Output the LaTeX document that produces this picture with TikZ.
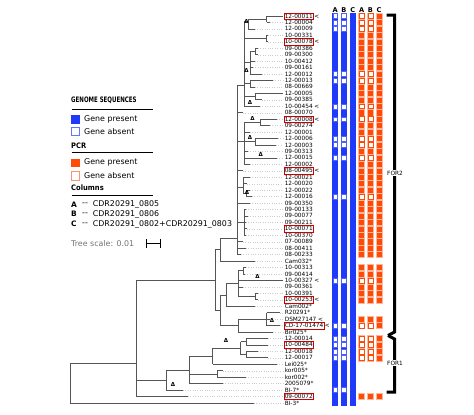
\documentclass[tikz,border=0pt]{standalone}
\usepackage{fontspec}
\setmainfont{DejaVu Sans}
\usepackage{tikz}
\usetikzlibrary{positioning}
\definecolor{gsblue}{RGB}{32,58,250}
\definecolor{pcrorange}{RGB}{255,74,8}
\definecolor{treegray}{RGB}{85,85,85}
\def\lf{\fontsize{5.8}{6}\selectfont}
\def\lg{\fontsize{7.9}{9}\selectfont}

\begin{document}
\begin{tikzpicture}[x=1pt,y=-1pt,
    br/.style={treegray, line width=0.75pt},
    lead/.style={black!20, dotted, line width=0.4pt},
    leaf/.style={font=\lf, inner sep=0.6pt, text height=4.4pt, text depth=0.4pt, anchor=west},
    redbox/.style={red!80!black, line width=0.6pt},
    delta/.style={font=\fontsize{5.5}{6}\selectfont\bfseries, inner sep=0pt},
    hdr/.style={font=\fontsize{6.6}{7}\selectfont\bfseries, inner sep=0pt},
    legtxt/.style={font=\lg, inner sep=0pt, anchor=west},
    leghead/.style={font=\fontsize{7.5}{8}\selectfont\bfseries, inner sep=0pt, anchor=west},
    legline/.style={line width=1.3pt},
    bracket/.style={line width=3pt},
    forlbl/.style={font=\fontsize{5.8}{6}\selectfont, fill=white, inner sep=0.8pt}]
\useasboundingbox (0,0) rectangle (474,415);

\begin{scope}[y=-6.45pt, yshift=-9.55pt]
  % tree
  \draw[br] (70,54.87) -- (70,61);
  \foreach \p/\x/\c/\a/\b in {70/136/54.87/49.74/60, 136/136/49.74/41.92/57.44,
      136/215/41.92/37.21/46.625, 215/220/37.21/35.42/39, 220/237.7/35.42/11.70/38,
      237.7/244/11.70/1.88/15, 244/248.3/1.88/1.5/3, 248.3/266.7/1.5/1/2,
      244/266.7/4.5/4/5, 244/250/8.25/6.5/10, 250/255/6.5/6/7, 244/250/11.5/11/12,
      244/255/13.5/13/14, 237.7/244/20.5/17.5/24, 244/260/17.5/17/18,
      244/255/20.5/20/21, 237.7/243.3/27.5/26/28.5, 243.3/246/28.5/28/29,
      237.7/244/33/31/35, 215/220/46.625/44.25/49, 220/226/44.25/42.5/46,
      226/238.3/42.5/40.5/44.5, 238.3/243/40.5/40/41, 238.3/255/44.5/44/45,
      220/238.3/49/48/50, 238.3/266.7/48/47/49, 136/166/57.44/55.875/59,
      166/189.3/55.875/53.75/58, 189.3/212.7/53.75/52.5/55, 212.7/240.7/52.5/51.5/53.5,
      240.7/246/51.5/51/52, 240.7/246/53.5/53/54, 189.3/217.3/56.5/56/57}{
    \draw[br] (\p,\c) -- (\x,\c);
    \draw[br] (\x,\a) -- (\x,\b);
  }
  \foreach \k/\p/\t in {1/266.7/283, 2/266.7/270, 3/248.3/255, 4/266.7/268, 5/266.7/268,
      6/255/258, 7/255/258, 8/250/255, 9/250/253, 10/250/262, 11/250/273, 12/250/255,
      13/255/283, 14/255/262, 15/244/260, 16/237.7/243, 17/260/276.7, 18/260/270,
      19/244/250, 20/255/278, 21/255/276, 22/244/248, 23/244/276.7, 24/244/250,
      25/237.7/243, 26/243.3/250, 27/243.3/247, 28/246/250, 29/246/252, 30/237.7/250,
      31/244/246, 32/244/248, 33/244/246, 34/244/247, 35/244/246, 36/237.7/243,
      37/237.7/246, 38/237.7/241, 39/220/255, 40/243/246, 41/243/245, 42/238.3/283,
      43/238.3/243, 44/255/258, 45/255/258, 46/226/255, 47/266.7/280, 48/266.7/270,
      49/266.7/280, 50/238.3/273, 51/246/268, 52/246/268, 53/246/258, 54/246/268,
      55/212.7/276.7, 56/217.3/222.7, 57/217.3/246, 58/189.3/222.7, 59/166/183,
      60/136/188, 61/70/254}{
    \draw[lead] (\t,\k) -- (283,\k);
    \draw[br] (\p,\k) -- (\t,\k);
  }

  % labels
  \foreach \k/\n in {1/12-00011, 2/12-00004, 3/12-00009, 4/10-00331, 5/10-00078,
      6/09-00386, 7/09-00300, 8/10-00412, 9/09-00161, 10/12-00012, 11/12-00013,
      12/08-00669, 13/12-00005, 14/09-00385, 15/10-00454, 16/08-00070, 17/12-00008,
      18/09-00274, 19/12-00001, 20/12-00006, 21/12-00003, 22/09-00313, 23/12-00015,
      24/12-00002, 25/08-00495, 26/12-00021, 27/12-00020, 28/12-00022, 29/12-00016,
      30/09-00350, 31/09-00133, 32/09-00077, 33/09-00211, 34/10-00071, 35/10-00370,
      36/07-00089, 37/08-00411, 38/08-00233, 39/Cam032*, 40/10-00313, 41/09-00414,
      42/10-00327, 43/09-00361, 44/10-00391, 45/10-00253, 46/Cam002*, 47/R20291*,
      48/DSM27147, 49/CD-17-01474, 50/Bir025*, 51/12-00014, 52/10-00484, 53/12-00018,
      54/12-00017, 55/Lei025*, 56/kor005*, 57/kor002*, 58/2005079*, 59/BI-7*,
      60/09-00072, 61/BI-3*}{
    \node[leaf] (L\k) at (284,\k) {\n};
  }
  \foreach \k in {1,5,17,25,34,45,49,52,60}
    \draw[redbox] (L\k.south west) rectangle (L\k.north east);
  \foreach \k in {1,5,15,17,25,42,45,48,49}
    \node[leaf] (M\k) at (L\k.east) {<};

  % genome columns
  \foreach \cx in {335.3,344,352.7}
    \fill[gsblue] (\cx-3,0.5) rectangle (\cx+3,61.5);
  \foreach \k in {1,2,3,10,11,15,17,20,21,23,29,42,49,51,52,53,54,59}
    \foreach \cx in {335.3,344}
      \filldraw[fill=white, draw=gsblue!80, line width=0.5pt] (\cx-2.4,\k-0.38) rectangle (\cx+2.4,\k+0.38);

  % pcr columns
  \foreach \k in {1,...,38,40,41,42,43,44,45,48,49,51,52,53,54,60}
    \foreach \cx in {361.7,370.3,379}
      \filldraw[fill=pcrorange, draw=pcrorange!40, line width=0.5pt] (\cx-3,\k-0.47) rectangle (\cx+3,\k+0.47);
  \foreach \k in {1,2,3,10,11,15,17,20,21,23,29,42,49,51,52,53,54}
    \foreach \cx in {361.7,370.3}
      \filldraw[fill=white, draw=pcrorange, line width=0.6pt] (\cx-2.5,\k-0.38) rectangle (\cx+2.5,\k+0.38);
\end{scope}

\foreach \x/\y in {246.5/21.7, 246.5/70, 250/102.5, 252.5/118.3, 250/137.5, 260.7/154,
    247/192.7, 257.5/276, 272/320.7, 226/340, 173/384}
  \node[delta] at (\x,\y) {Δ};

\foreach \cx/\l [count=\i] in {335.3/A, 344/B, 352.7/C, 361.7/A, 370.3/B, 379/C}
  \node[hdr] (H\i) at (\cx,10) {\l};

% groups
\draw[bracket] (386.5,15) -- (394.5,15) -- (394.5,332) -- (388,335.5);
\draw[bracket] (388,335.5) -- (394.5,339) -- (394.5,392) -- (386.5,392);
\node[forlbl] (for2) at (395,173) {FOR2};
\node[forlbl] (for1) at (395,363) {FOR1};

% legend
\node[leghead] (gs) at (71,100) {\scalebox{0.73}[1]{GENOME SEQUENCES}};
\draw[legline] (71.5,109.3) -- (153.3,109.3);
\fill[gsblue] (71,115) rectangle (80,123.5);
\node[legtxt] (gsp) at (84,119.3) {Gene present};
\draw[gsblue!70, fill=white, line width=0.7pt] (71.5,127.5) rectangle (79.5,135.5);
\node[legtxt] (gsa) at (84,131.5) {Gene absent};
\node[leghead] (pcr) at (71,145.7) {\scalebox{0.9}[1]{PCR}};
\draw[legline] (71.5,152.7) -- (153.3,152.7);
\fill[pcrorange] (71,158.5) rectangle (80,167);
\node[legtxt] (pcrp) at (84,162.7) {Gene present};
\draw[pcrorange!60, fill=white, line width=0.7pt] (71.5,171.5) rectangle (79.5,180);
\node[legtxt] (pcra) at (84,175.7) {Gene absent};
\node[leghead] (col) at (71,188) {\scalebox{0.9}[1]{Columns}};
\draw[legline] (71.5,195.7) -- (153.3,195.7);
\foreach \l/\t/\y in {A/CDR20291\_0805/204.3, B/CDR20291\_0806/214, C/CDR20291\_0802+CDR20291\_0803/224}{
  \node[leghead] (c\l) at (71,\y) {\l};
  \node[legtxt] (d\l) at (82,\y) {-{}-};
  \node[legtxt] (t\l) at (92.7,\y) {\t};
}
\node[legtxt, text=black!55] (scale) at (71,243.3) {Tree scale: 0.01};
\draw[line width=1.2pt, |-|] (146,243.3) -- (161,243.3);
\end{tikzpicture}
\end{document}
